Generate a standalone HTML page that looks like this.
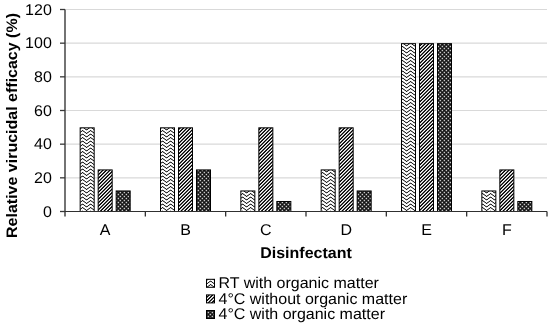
<!DOCTYPE html>
<html><head><meta charset="utf-8"><style>
html,body{margin:0;padding:0;background:#fff;}
svg{display:block;}
text{font-family:"Liberation Sans",Arial,sans-serif;fill:#000;text-rendering:geometricPrecision;}
</style></head><body>
<svg width="550" height="327" viewBox="0 0 550 327">
<defs>
<pattern id="zz" patternUnits="userSpaceOnUse" width="8" height="7" x="2" y="1"><path fill="#1e1e1e" d="M2,1h1v1h-1zM6,1h1v1h-1zM0,3h1v1h-1zM4,6h1v1h-1z"/><path fill="#282828" d="M1,0h1v1h-1zM5,2h1v1h-1zM7,4h1v1h-1zM3,5h1v1h-1z"/><path fill="#414141" d="M0,0h1v1h-1zM4,2h1v1h-1z"/><path fill="#494949" d="M7,0h1v1h-1zM3,2h1v1h-1zM1,4h1v1h-1zM5,5h1v1h-1z"/><path fill="#676767" d="M2,4h1v1h-1zM6,5h1v1h-1z"/><path fill="#989898" d="M6,4h1v1h-1zM2,5h1v1h-1z"/><path fill="#b6b6b6" d="M3,1h1v1h-1zM7,1h1v1h-1zM1,3h1v1h-1zM5,6h1v1h-1z"/><path fill="#bebebe" d="M4,3h1v1h-1zM0,6h1v1h-1z"/><path fill="#dfdfdf" d="M1,1h1v1h-1zM5,1h1v1h-1zM7,3h1v1h-1zM3,6h1v1h-1z"/><path fill="#e1e1e1" d="M0,4h1v1h-1zM4,5h1v1h-1z"/><path fill="#f3f3f3" d="M2,0h1v1h-1zM6,2h1v1h-1z"/><path fill="#ffffff" d="M3,0h1v1h-1zM4,0h1v1h-1zM5,0h1v1h-1zM6,0h1v1h-1zM0,1h1v1h-1zM4,1h1v1h-1zM0,2h1v1h-1zM1,2h1v1h-1zM2,2h1v1h-1zM7,2h1v1h-1zM2,3h1v1h-1zM3,3h1v1h-1zM5,3h1v1h-1zM6,3h1v1h-1zM3,4h1v1h-1zM4,4h1v1h-1zM5,4h1v1h-1zM0,5h1v1h-1zM1,5h1v1h-1zM7,5h1v1h-1zM1,6h1v1h-1zM2,6h1v1h-1zM6,6h1v1h-1zM7,6h1v1h-1z"/></pattern>
<pattern id="dg" patternUnits="userSpaceOnUse" width="7" height="7" x="0" y="0"><path fill="#000000" d="M6,0h1v1h-1zM5,1h1v1h-1zM4,2h1v1h-1zM3,3h1v1h-1zM2,4h1v1h-1zM1,5h1v1h-1zM0,6h1v1h-1z"/><path fill="#030303" d="M3,0h1v1h-1zM2,1h1v1h-1zM1,2h1v1h-1zM0,3h1v1h-1zM6,4h1v1h-1zM5,5h1v1h-1zM4,6h1v1h-1z"/><path fill="#323232" d="M2,0h1v1h-1zM1,1h1v1h-1zM0,2h1v1h-1zM6,3h1v1h-1zM5,4h1v1h-1zM4,5h1v1h-1zM3,6h1v1h-1z"/><path fill="#767676" d="M0,0h1v1h-1zM6,1h1v1h-1zM5,2h1v1h-1zM4,3h1v1h-1zM3,4h1v1h-1zM2,5h1v1h-1zM1,6h1v1h-1z"/><path fill="#bebebe" d="M5,0h1v1h-1zM4,1h1v1h-1zM3,2h1v1h-1zM2,3h1v1h-1zM1,4h1v1h-1zM0,5h1v1h-1zM6,6h1v1h-1z"/><path fill="#f2f2f2" d="M4,0h1v1h-1zM3,1h1v1h-1zM2,2h1v1h-1zM1,3h1v1h-1zM0,4h1v1h-1zM6,5h1v1h-1zM5,6h1v1h-1z"/><path fill="#ffffff" d="M1,0h1v1h-1zM0,1h1v1h-1zM6,2h1v1h-1zM5,3h1v1h-1zM4,4h1v1h-1zM3,5h1v1h-1zM2,6h1v1h-1z"/></pattern>
<pattern id="ck" patternUnits="userSpaceOnUse" width="4" height="4" x="0" y="0"><path fill="#0f0f0f" d="M2,0h1v1h-1zM0,2h1v1h-1z"/><path fill="#262626" d="M1,0h1v1h-1zM1,1h1v1h-1zM3,1h1v1h-1zM3,2h1v1h-1zM1,3h1v1h-1zM3,3h1v1h-1z"/><path fill="#3d3d3d" d="M0,1h1v1h-1zM2,1h1v1h-1zM0,3h1v1h-1zM2,3h1v1h-1z"/><path fill="#545454" d="M3,0h1v1h-1zM1,2h1v1h-1z"/><path fill="#c8c8c8" d="M0,0h1v1h-1zM2,2h1v1h-1z"/></pattern>
</defs>

<line x1="65.0" y1="177.83" x2="547.0" y2="177.83" stroke="#d9d9d9" stroke-width="1.2"/>
<line x1="65.0" y1="144.17" x2="547.0" y2="144.17" stroke="#d9d9d9" stroke-width="1.2"/>
<line x1="65.0" y1="110.50" x2="547.0" y2="110.50" stroke="#d9d9d9" stroke-width="1.2"/>
<line x1="65.0" y1="76.83" x2="547.0" y2="76.83" stroke="#d9d9d9" stroke-width="1.2"/>
<line x1="65.0" y1="43.17" x2="547.0" y2="43.17" stroke="#d9d9d9" stroke-width="1.2"/>
<line x1="65.0" y1="9.50" x2="547.0" y2="9.50" stroke="#d9d9d9" stroke-width="1.2"/>
<rect x="80.17" y="127.83" width="14" height="83.67" fill="url(#zz)" stroke="#000" stroke-width="1"/>
<rect x="98.17" y="169.92" width="14" height="41.58" fill="url(#dg)" stroke="#000" stroke-width="1"/>
<rect x="116.17" y="190.96" width="14" height="20.54" fill="url(#ck)" stroke="#000" stroke-width="1"/>
<rect x="160.50" y="127.83" width="14" height="83.67" fill="url(#zz)" stroke="#000" stroke-width="1"/>
<rect x="178.50" y="127.83" width="14" height="83.67" fill="url(#dg)" stroke="#000" stroke-width="1"/>
<rect x="196.50" y="169.92" width="14" height="41.58" fill="url(#ck)" stroke="#000" stroke-width="1"/>
<rect x="240.84" y="190.96" width="14" height="20.54" fill="url(#zz)" stroke="#000" stroke-width="1"/>
<rect x="258.84" y="127.83" width="14" height="83.67" fill="url(#dg)" stroke="#000" stroke-width="1"/>
<rect x="276.84" y="201.48" width="14" height="10.02" fill="url(#ck)" stroke="#000" stroke-width="1"/>
<rect x="321.17" y="169.92" width="14" height="41.58" fill="url(#zz)" stroke="#000" stroke-width="1"/>
<rect x="339.17" y="127.83" width="14" height="83.67" fill="url(#dg)" stroke="#000" stroke-width="1"/>
<rect x="357.17" y="190.96" width="14" height="20.54" fill="url(#ck)" stroke="#000" stroke-width="1"/>
<rect x="401.50" y="43.67" width="14" height="167.83" fill="url(#zz)" stroke="#000" stroke-width="1"/>
<rect x="419.50" y="43.67" width="14" height="167.83" fill="url(#dg)" stroke="#000" stroke-width="1"/>
<rect x="437.50" y="43.67" width="14" height="167.83" fill="url(#ck)" stroke="#000" stroke-width="1"/>
<rect x="481.84" y="190.96" width="14" height="20.54" fill="url(#zz)" stroke="#000" stroke-width="1"/>
<rect x="499.84" y="169.92" width="14" height="41.58" fill="url(#dg)" stroke="#000" stroke-width="1"/>
<rect x="517.84" y="201.48" width="14" height="10.02" fill="url(#ck)" stroke="#000" stroke-width="1"/>
<line x1="65.0" y1="9.5" x2="65.0" y2="216.5" stroke="#383838" stroke-width="1.4"/>
<line x1="60" y1="211.50" x2="65.0" y2="211.50" stroke="#383838" stroke-width="1.3"/>
<line x1="60" y1="177.83" x2="65.0" y2="177.83" stroke="#383838" stroke-width="1.3"/>
<line x1="60" y1="144.17" x2="65.0" y2="144.17" stroke="#383838" stroke-width="1.3"/>
<line x1="60" y1="110.50" x2="65.0" y2="110.50" stroke="#383838" stroke-width="1.3"/>
<line x1="60" y1="76.83" x2="65.0" y2="76.83" stroke="#383838" stroke-width="1.3"/>
<line x1="60" y1="43.17" x2="65.0" y2="43.17" stroke="#383838" stroke-width="1.3"/>
<line x1="60" y1="9.50" x2="65.0" y2="9.50" stroke="#383838" stroke-width="1.3"/>
<line x1="65.0" y1="211.5" x2="547.0" y2="211.5" stroke="#303030" stroke-width="1.2"/>
<line x1="145.33" y1="211.5" x2="145.33" y2="216.5" stroke="#303030" stroke-width="1.3"/>
<line x1="225.67" y1="211.5" x2="225.67" y2="216.5" stroke="#303030" stroke-width="1.3"/>
<line x1="306.00" y1="211.5" x2="306.00" y2="216.5" stroke="#303030" stroke-width="1.3"/>
<line x1="386.33" y1="211.5" x2="386.33" y2="216.5" stroke="#303030" stroke-width="1.3"/>
<line x1="466.67" y1="211.5" x2="466.67" y2="216.5" stroke="#303030" stroke-width="1.3"/>
<line x1="547.00" y1="211.5" x2="547.00" y2="216.5" stroke="#303030" stroke-width="1.3"/>
<text transform="translate(51.80,216.80) scale(1,0.97)" font-size="16" text-anchor="end">0</text>
<text transform="translate(51.80,183.13) scale(1,0.97)" font-size="16" text-anchor="end">20</text>
<text transform="translate(51.80,149.47) scale(1,0.97)" font-size="16" text-anchor="end">40</text>
<text transform="translate(51.80,115.80) scale(1,0.97)" font-size="16" text-anchor="end">60</text>
<text transform="translate(51.80,82.13) scale(1,0.97)" font-size="16" text-anchor="end">80</text>
<text transform="translate(51.80,48.47) scale(1,0.97)" font-size="16" text-anchor="end">100</text>
<text transform="translate(51.80,14.80) scale(1,0.97)" font-size="16" text-anchor="end">120</text>
<text transform="translate(105.17,235.00) scale(1,0.97)" font-size="16" text-anchor="middle">A</text>
<text transform="translate(185.50,235.00) scale(1,0.97)" font-size="16" text-anchor="middle">B</text>
<text transform="translate(265.83,235.00) scale(1,0.97)" font-size="16" text-anchor="middle">C</text>
<text transform="translate(346.17,235.00) scale(1,0.97)" font-size="16" text-anchor="middle">D</text>
<text transform="translate(426.50,235.00) scale(1,0.97)" font-size="16" text-anchor="middle">E</text>
<text transform="translate(506.83,235.00) scale(1,0.97)" font-size="16" text-anchor="middle">F</text>
<text transform="translate(306.00,258.20) scale(1,0.97)" font-size="16" font-weight="bold" text-anchor="middle">Disinfectant</text>
<text transform="translate(16.90,125.50) rotate(-90) scale(1,0.95)" font-size="16" font-weight="bold" text-anchor="middle">Relative virucidal efficacy (%)</text>
<rect x="206.5" y="279.30" width="8" height="8" fill="url(#zz)" stroke="#000" stroke-width="1"/>
<text transform="translate(218.50,288.45) scale(1,0.97)" font-size="16">RT with organic matter</text>
<rect x="206.5" y="294.90" width="8" height="8" fill="url(#dg)" stroke="#000" stroke-width="1"/>
<text transform="translate(218.50,303.80) scale(1,0.97)" font-size="16">4°C without organic matter</text>
<rect x="206.5" y="310.50" width="8" height="8" fill="url(#ck)" stroke="#000" stroke-width="1"/>
<text transform="translate(218.50,319.15) scale(1,0.97)" font-size="16">4°C with organic matter</text>
</svg>
</body></html>
